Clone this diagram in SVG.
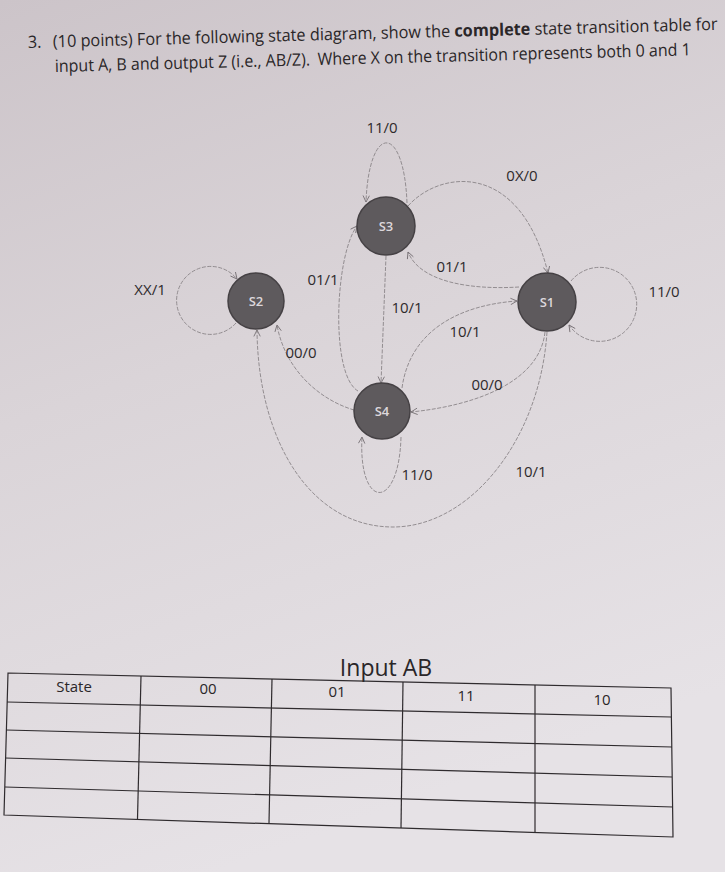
<svg xmlns="http://www.w3.org/2000/svg" width="725" height="872" viewBox="0 0 725 872">
<defs>
<linearGradient id="bg" x1="0" y1="0" x2="0.3" y2="1">
<stop offset="0" stop-color="#ccc4c9"/>
<stop offset="0.45" stop-color="#dad4d8"/>
<stop offset="1" stop-color="#e6e2e6"/>
</linearGradient>
<marker id="arr" viewBox="0 0 10 10" refX="9" refY="5" markerWidth="8" markerHeight="8" orient="auto" markerUnits="userSpaceOnUse">
<path d="M1,1 L9,5 L1,9" fill="none" stroke="#767074" stroke-width="1.1"/>
</marker>
<style>
.t{font-family:"Open Sans","Liberation Sans",sans-serif;fill:#2a2628}
.lbl{font-family:"Open Sans","Liberation Sans",sans-serif;font-size:15px;fill:#2e2a2c;text-anchor:middle}
.node circle{fill:#5e5a5d;stroke:#454144;stroke-width:1.5}
.node text{font-family:"Open Sans","Liberation Sans",sans-serif;font-size:13px;font-weight:600;fill:#dcd7db;text-anchor:middle}
.edge{fill:none;stroke:#8a8488;stroke-width:0.9;stroke-dasharray:4 1.5;marker-end:url(#arr)}
.tb{fill:none;stroke:#2f2b2e;stroke-width:1.2}
</style>
</defs>
<rect width="725" height="872" fill="url(#bg)"/>

<g id="title">
<text class="t" x="28" y="48" font-size="17" textLength="690" lengthAdjust="spacingAndGlyphs" transform="rotate(-1.5 28 48)">3.<tspan dx="12">(10 points) For the following state diagram, show the </tspan><tspan font-weight="bold">complete</tspan> state transition table for</text>
<text class="t" x="55" y="72" font-size="17" textLength="636" lengthAdjust="spacingAndGlyphs" transform="rotate(-1.5 55 72)">input A, B and output Z (i.e., AB/Z).<tspan dx="8">Where X on the transition represents both 0 and 1</tspan></text>
</g>

<g id="connectors">
<path class="edge" d="M407,203 C404,123 369,123 366,202"/>
<path class="edge" d="M236,323 A34,34 0 1 1 237,279"/>
<path class="edge" d="M571,281 A37,37 0 1 1 569,325"/>
<path class="edge" d="M401,437 C399,512 358,510 362,437"/>
<path class="edge" d="M408,206 C440,170 520,160 548,273"/>
<path class="edge" d="M519,287 C470,290 420,282 408,252"/>
<path class="edge" d="M386,256 L381,383"/>
<path class="edge" d="M402,388 C410,330 460,305 517,301"/>
<path class="edge" d="M545,332 C540,380 480,405 411,412"/>
<path class="edge" d="M358,391 C330,375 335,255 357,226"/>
<path class="edge" d="M354,410 C320,400 285,370 277,325"/>
<path class="edge" d="M547,332 C540,440 470,527 393,527 C310,527 258,440 257,330"/>
</g>

<g id="edge-labels">
<text class="lbl" x="382" y="133">11/0</text>
<text class="lbl" x="522" y="181">0X/0</text>
<text class="lbl" x="452" y="272">01/1</text>
<text class="lbl" x="664" y="297">11/0</text>
<text class="lbl" x="150" y="295">XX/1</text>
<text class="lbl" x="323" y="285">01/1</text>
<text class="lbl" x="407" y="313">10/1</text>
<text class="lbl" x="465" y="337">10/1</text>
<text class="lbl" x="301" y="358">00/0</text>
<text class="lbl" x="487" y="390">00/0</text>
<text class="lbl" x="417" y="480">11/0</text>
<text class="lbl" x="531" y="477">10/1</text>
</g>

<g id="S3" class="node"><circle cx="386" cy="226" r="29"/><text x="386" y="231">S3</text></g>
<g id="S2" class="node"><circle cx="256" cy="301" r="28"/><text x="256" y="306">S2</text></g>
<g id="S1" class="node"><circle cx="547" cy="302" r="29"/><text x="547" y="307">S1</text></g>
<g id="S4" class="node"><circle cx="382" cy="411" r="28"/><text x="382" y="416">S4</text></g>

<g id="table">
<text class="t" x="386" y="676" font-size="23" text-anchor="middle">Input AB</text>
<path class="tb" d="M8,673 L671,688 L673,837 L4,815 Z"/>
<path class="tb" d="M7,702 L671,717"/>
<path class="tb" d="M6,730 L672,747"/>
<path class="tb" d="M5,758 L672,777"/>
<path class="tb" d="M5,787 L673,807"/>
<path class="tb" d="M141,676 L137.5,819"/>
<path class="tb" d="M272,679 L269,823"/>
<path class="tb" d="M403,682 L401,828"/>
<path class="tb" d="M535,685 L535,832"/>
<text class="t" x="74" y="692" font-size="15" text-anchor="middle">State</text>
<text class="t" x="208" y="694" font-size="15" text-anchor="middle">00</text>
<text class="t" x="337" y="697" font-size="15" text-anchor="middle">01</text>
<text class="t" x="466" y="701" font-size="15" text-anchor="middle">11</text>
<text class="t" x="602" y="705" font-size="15" text-anchor="middle">10</text>
</g>
</svg>
